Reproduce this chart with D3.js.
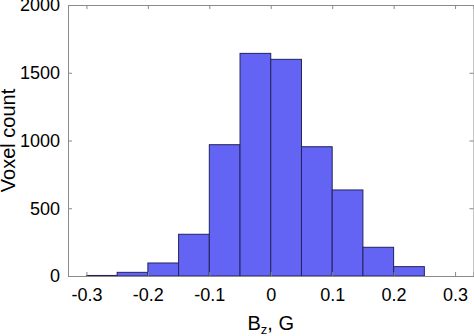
<!DOCTYPE html>
<html>
<head>
<meta charset="utf-8">
<script src="https://cdn.jsdelivr.net/npm/d3@7"></script>
<style>
  html, body { margin: 0; padding: 0; background: #fff; }
  svg { display: block; font-family: "Liberation Sans", Arial, sans-serif; }
</style>
</head>
<body>
<svg id="chart" width="474" height="336"></svg>
<script>
// Histogram bin edges (G) and voxel counts per bin
const binStarts = [-0.30, -0.25, -0.20, -0.15, -0.10, -0.05, 0.00, 0.05, 0.10, 0.15, 0.20];
const binWidth = 0.05;
const counts = [4, 27, 96, 308, 969, 1643, 1599, 954, 635, 212, 69];
const xTicks = [-0.3, -0.2, -0.1, 0, 0.1, 0.2, 0.3];
const yTicks = [0, 500, 1000, 1500, 2000];

const bins = binStarts.map((x0, i) => ({ x0, x1: x0 + binWidth, n: counts[i] }));

const plotLeft = 68, plotRight = 473.5, plotTop = 5, plotBottom = 276;

const x = d3.scaleLinear().domain([-0.33, 0.33]).range([plotLeft, plotRight]);
const y = d3.scaleLinear().domain([0, 2000]).range([plotBottom, plotTop]);

const svg = d3.select("#chart");
const axisColor = "#8a8a8a";
const tickLen = 4;

// bars
svg.append("g").selectAll("rect").data(bins).join("rect")
  .attr("x", d => x(d.x0))
  .attr("y", d => y(d.n))
  .attr("width", d => x(d.x1) - x(d.x0))
  .attr("height", d => y(0) - y(d.n))
  .attr("fill", "#6464f4")
  .attr("stroke", "#22225e")
  .attr("stroke-width", 1);

// tick label format: "-0.3", "0", "0.1"
const fmtX = d => d === 0 ? "0" : d3.format(".1f")(d).replace("\u2212", "-");

// bottom axis
const gx = svg.append("g").attr("transform", `translate(0,${plotBottom})`)
  .call(d3.axisBottom(x).tickValues(xTicks).tickSize(-tickLen).tickPadding(8 + tickLen).tickFormat(fmtX));
// top axis (mirror, no labels)
const gxt = svg.append("g").attr("transform", `translate(0,${plotTop})`)
  .call(d3.axisTop(x).tickValues(xTicks).tickSize(-tickLen).tickFormat(""));
// left axis
const gy = svg.append("g").attr("transform", `translate(${plotLeft},0)`)
  .call(d3.axisLeft(y).tickValues(yTicks).tickSize(-tickLen).tickPadding(4 + tickLen).tickFormat(d3.format("d")));
// right axis (mirror)
const gyr = svg.append("g").attr("transform", `translate(${plotRight},0)`)
  .call(d3.axisRight(y).tickValues(yTicks).tickSize(-tickLen).tickFormat(""));

[gx, gxt, gy, gyr].forEach(g => {
  g.select(".domain").attr("stroke", axisColor).attr("stroke-width", 1);
  g.selectAll(".tick line").attr("stroke", axisColor);
  g.selectAll("text").attr("fill", "#000").attr("font-size", 18)
    .attr("font-family", "Liberation Sans, Arial, sans-serif");
});

// axis titles
svg.append("text")
  .attr("transform", `translate(${15},${(plotTop + plotBottom) / 2}) rotate(-90)`)
  .attr("text-anchor", "middle")
  .attr("font-size", 20)
  .text("Voxel count");

const xl = svg.append("text")
  .attr("x", (plotLeft + plotRight) / 2)
  .attr("y", 330)
  .attr("text-anchor", "middle")
  .attr("font-size", 20);
xl.append("tspan").text("B");
xl.append("tspan").attr("font-size", 13).attr("dy", 4).text("z");
xl.append("tspan").attr("dy", -4).text(", G");
</script>
</body>
</html>
